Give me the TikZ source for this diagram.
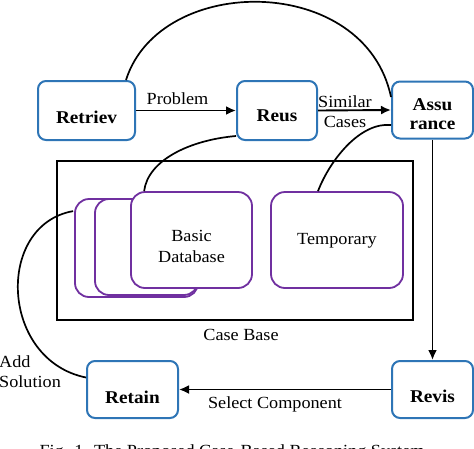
\documentclass[tikz,border=0pt]{standalone}
\usepackage{fontspec}
\setmainfont{Liberation Serif}[FakeStretch=1.07]
\usetikzlibrary{arrows.meta}
\definecolor{boxblue}{RGB}{46,117,182}
\definecolor{boxpurple}{RGB}{112,48,160}
\begin{document}
\begin{tikzpicture}[x=1pt,y=-1pt,
  bluebox/.style={draw=boxblue,line width=2pt,rounded corners=8pt,fill=white,
    inner sep=0pt,font=\fontsize{18}{19}\selectfont\bfseries,align=center,text depth=0pt},
  purplebox/.style={draw=boxpurple,line width=1.8pt,rounded corners=14pt,fill=white,
    inner sep=0pt,font=\fontsize{17}{21}\selectfont,align=center,text depth=0pt},
  lbl/.style={inner sep=0pt,font=\fontsize{17}{20}\selectfont,align=center},
  conn/.style={line width=1.7pt},
  arr/.style={line width=1.9pt,-{Latex[length=10pt,width=9pt]}}]
\useasboundingbox (0,0) rectangle (474,448);

% Case base frame
\node[draw,line width=1.9pt,minimum width=356pt,minimum height=159pt,inner sep=0pt] (casebase) at (235,240.5) {};
\node[lbl] (cblbl) at (241,335) {Case Base};

% stacked database boxes
\node[purplebox,minimum width=123pt,minimum height=98pt] (back2) at (136.5,248) {};
\node[purplebox,minimum width=103pt,minimum height=96pt] (back1) at (146.5,247) {};
\node[purplebox,minimum width=121pt,minimum height=96pt,text height=44pt] (basic) at (191.5,240) {Basic\\Database};
\node[purplebox,minimum width=132pt,minimum height=96pt,text height=8pt] (temp) at (337,240) {Temporary};

% process boxes
\node[bluebox,minimum width=97pt,minimum height=59pt,text height=26pt] (retriev) at (86.5,110.5) {Retriev};
\node[bluebox,minimum width=80pt,minimum height=59pt,text height=21pt] (reus) at (277,110.5) {Reus};
\node[bluebox,minimum width=81pt,minimum height=57pt,text height=38pt] (assur) at (432.5,110) {Assu\\rance};
\node[bluebox,minimum width=81pt,minimum height=57pt,text height=25pt] (revis) at (432.5,389.5) {Revis};
\node[bluebox,minimum width=91pt,minimum height=57pt,text height=27pt] (retain) at (132.5,389.5) {Retain};

% straight arrows
\draw[arr] (retriev.east) -- (reus.west);
\draw[arr] (reus.east) -- (assur.west);
\draw[arr] (assur.south) -- (revis.north);
\draw[arr] (revis.west) -- (retain.east);

% labels
\node[lbl] (lproblem) at (177.5,99) {Problem};
\node[lbl] (lsimilar) at (345,112) {Similar\\Cases};
\node[lbl] (lselect) at (275,404) {Select Component};
\node[lbl,align=left,anchor=west] (ladd) at (-1,372) {Add\\Solution};

% curves
\draw[conn] ([xshift=-10pt]retriev.north east) .. controls (160,-27) and (365,-27) .. ([yshift=13pt]assur.west);
\draw[conn] ([yshift=5pt]reus.south west) .. controls (190,140) and (148,160) .. ([xshift=14pt]basic.north west);
\draw[conn] ([yshift=-15pt]assur.west) .. controls (360,122) and (330,160) .. ([xshift=-19pt]temp.north);
\draw[conn] ([yshift=12pt]retain.west) .. controls (0,360) and (-5,225) .. ([xshift=-1pt,yshift=-13pt]back2.north west);

% caption (cut off at the lower edge, as in the reference)
\node[lbl,anchor=base] (caption) at (232,456) {Fig. 1. The Proposed Case-Based Reasoning System};
\end{tikzpicture}
\end{document}
